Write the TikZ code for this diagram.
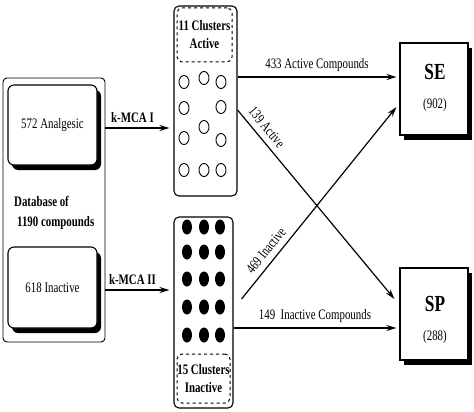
\documentclass[tikz,border=0pt]{standalone}
\usepackage{fontspec}
\setmainfont[FakeStretch=0.75]{Liberation Serif}
\usetikzlibrary{arrows.meta,shadows,calc,shapes.geometric}
\begin{document}
\begin{tikzpicture}[x=1pt,y=-1pt,
  every node/.style={font=\fontsize{14.5}{18}\selectfont, inner sep=0pt},
  sbox/.style={draw, line width=1.1pt, fill=white, rounded corners=6pt,
    drop shadow={shadow xshift=4pt, shadow yshift=-5pt, fill=black, opacity=1}},
  rbox/.style={sbox, rounded corners=0pt},
  clbox/.style={draw, line width=1.1pt, rounded corners=5pt},
  dbox/.style={draw, dashed, line width=1pt, rounded corners=5pt, align=center},
  ocirc/.style={draw, ellipse, line width=0.9pt, minimum width=10pt, minimum height=13pt},
  fcirc/.style={fill=black, ellipse, minimum width=10pt, minimum height=15pt},
  arr/.style={-{Stealth[length=10pt,width=6pt]}, line width=1.2pt}
]
\useasboundingbox (0,0) rectangle (474,412);

% database box
\node[draw, line width=0.9pt, rounded corners=4pt, minimum width=102pt, minimum height=264pt] (db) at (54,210) {};
\node[sbox, minimum width=89pt, minimum height=80pt] (an) at (52.5,125) {572 Analgesic};
\node[sbox, minimum width=89pt, minimum height=81pt] (inact) at (52.5,287.5) {618 Inactive};
\node[align=left, anchor=west, font=\fontsize{14.5}{20}\selectfont] (dbt) at (14,213) {\textbf{Database of}\\\hspace{3pt}\textbf{1190 compounds}};

% cluster boxes
\node[clbox, minimum width=63pt, minimum height=190pt] (ca) at (205.5,101) {};
\node[clbox, minimum width=59pt, minimum height=191pt] (ci) at (203.5,312.5) {};
\node[dbox, minimum width=55pt, minimum height=54pt] (da) at (204.5,35) {\textbf{11 Clusters}\\\textbf{Active}};
\node[dbox, minimum width=53pt, minimum height=49pt] (di) at (203.5,378.5) {\textbf{15 Clusters}\\\textbf{Inactive}};

% open circles (11)
\foreach \x/\y [count=\i] in {184/82,204/78,221/82,184/108,221/107,204/127,184/138,221/140,184/170,204/170,221/170}
  \node[ocirc] (c\i) at (\x,\y) {};
% filled circles (15)
\foreach \y [count=\j] in {227,252,279,307,335}
  \foreach \x [count=\k] in {187,204,220}
    \node[fcirc] (d\j\k) at (\x,\y) {};

% SE / SP boxes
\node[rbox, minimum width=68pt, minimum height=92pt] (se) at (434,89) {};
\node (set) at (435,72) {\fontsize{23}{23}\selectfont\textbf{SE}};
\node (sen) at (435,105) {(902)};
\node[rbox, minimum width=68pt, minimum height=92pt] (sp) at (434,314) {};
\node (spt) at (435,304) {\fontsize{23}{23}\selectfont\textbf{SP}};
\node (spn) at (435,337) {(288)};

% k-MCA arrows
\draw[arr] (db.east |- 0,128) -- ([xshift=-4pt]ca.west |- 0,128) node[midway, above=5pt, xshift=-5pt] {\textbf{k-MCA I}};
\draw[arr] (db.east |- 0,290) -- ([xshift=-4pt]ci.west |- 0,290) node[midway, above=5pt, xshift=-5pt] {\textbf{k-MCA II}};

% output arrows
\draw[arr] (ca.east |- 0,77) -- ([xshift=-3pt]se.west |- 0,77) node[midway, above=5pt] {433 Active Compounds};
\draw[arr] (ca.east |- 0,110) -- ([xshift=-5pt]sp.west |- 0,299) node[pos=0.13, sloped, above=6pt] {139 Active};
\draw[arr] ([xshift=8pt]ci.east |- 0,299) -- ([xshift=-3pt]se.west |- 0,107) node[pos=0.215, sloped, above=6pt] {469 Inactive};
\draw[arr] (ci.east |- 0,328) -- ([xshift=-3pt]sp.west |- 0,328) node[midway, above=5pt] {149\ \ Inactive Compounds};
\end{tikzpicture}
\end{document}
